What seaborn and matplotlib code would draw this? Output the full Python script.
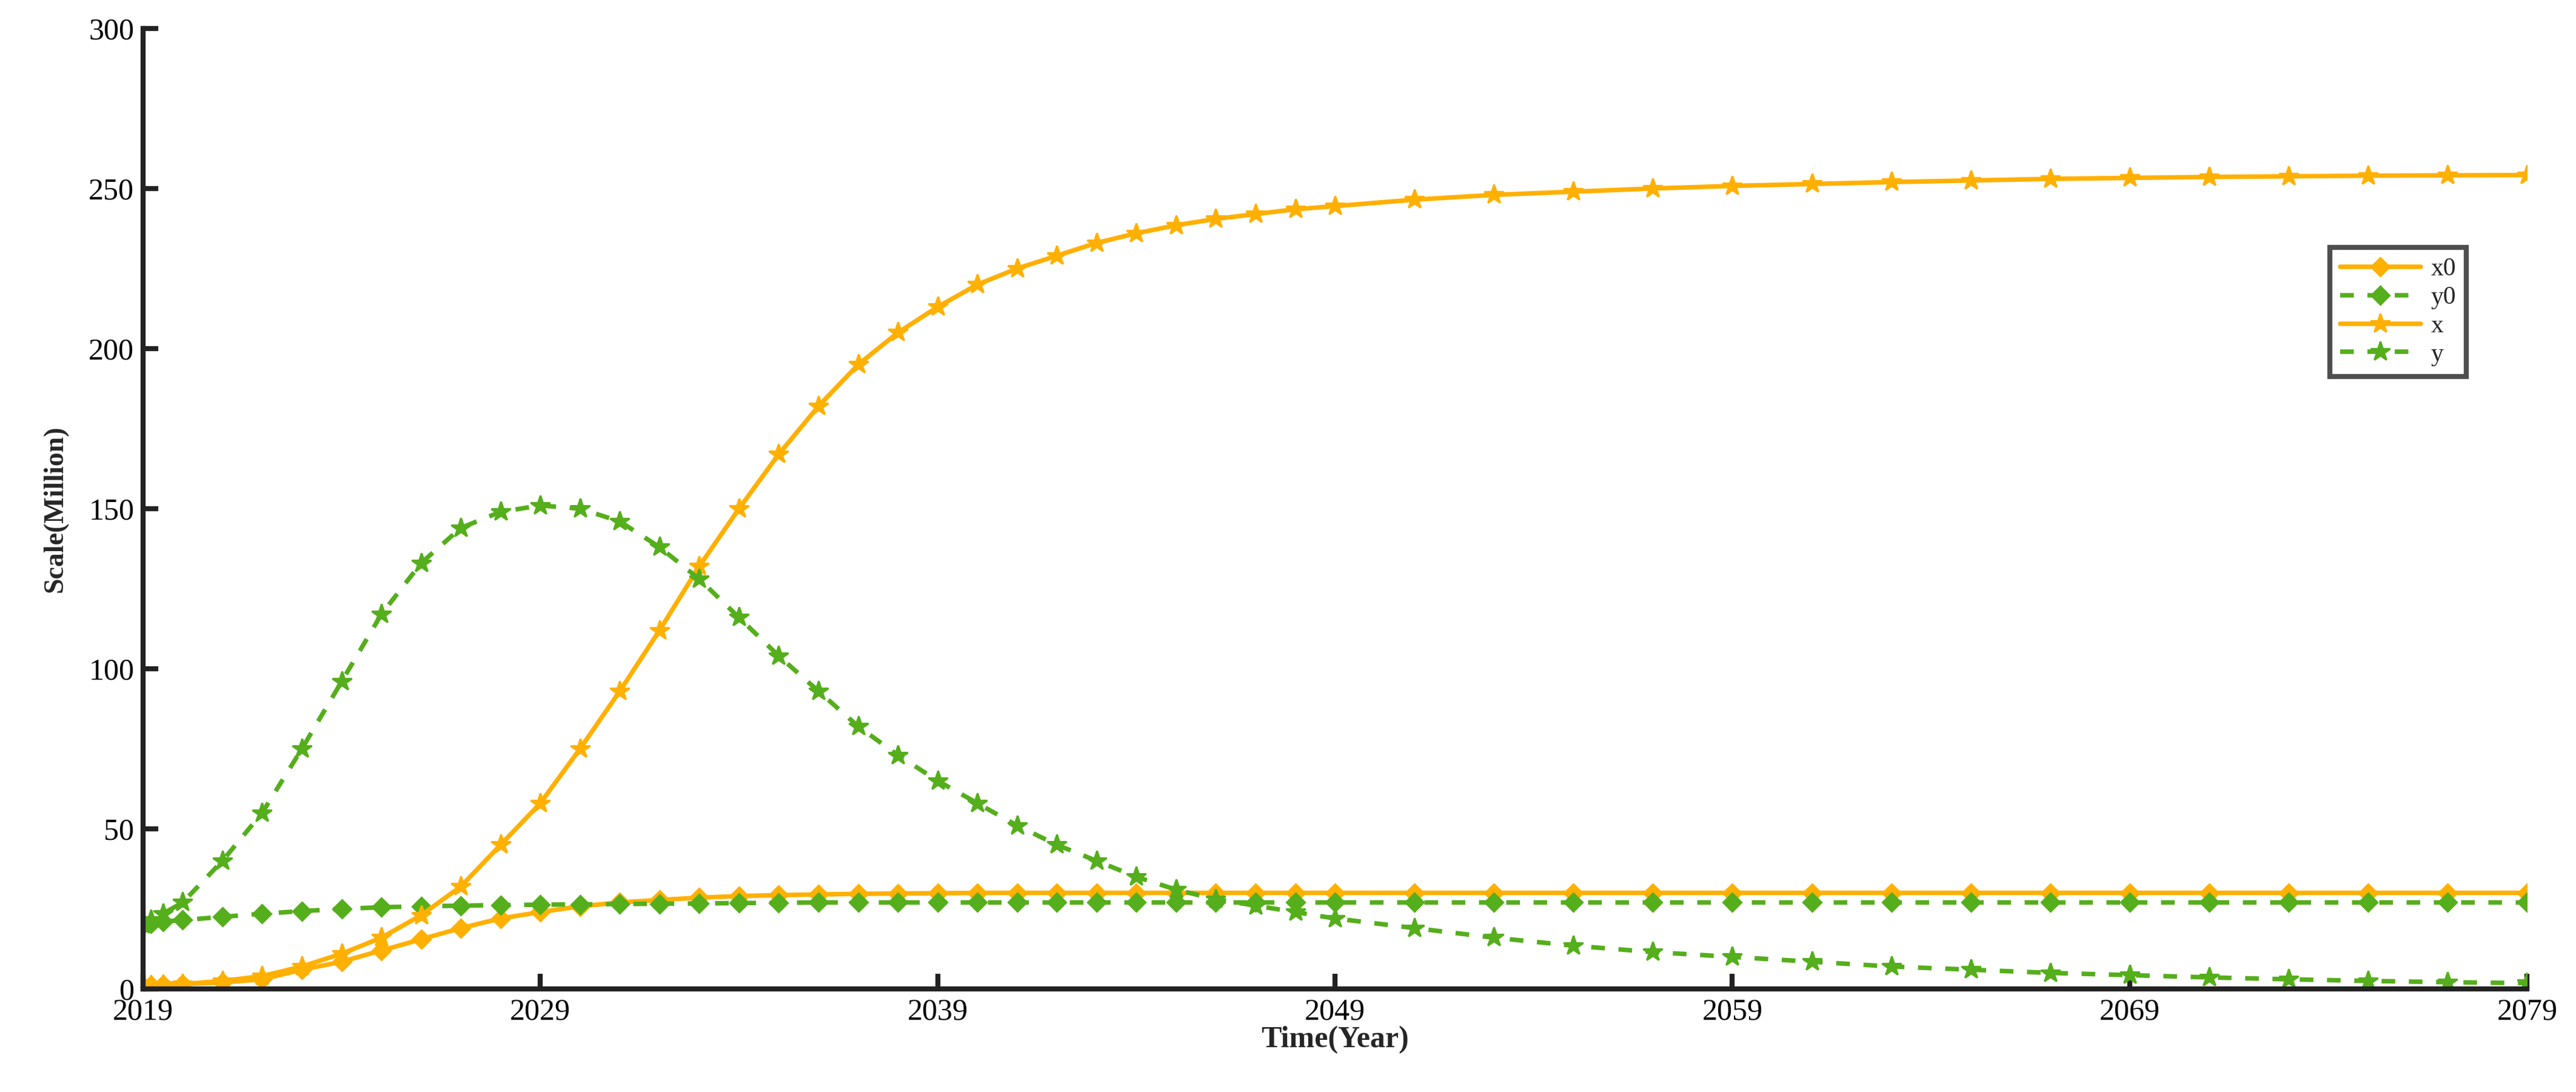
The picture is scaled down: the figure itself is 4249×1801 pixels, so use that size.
import numpy as np
import pandas as pd
import seaborn as sns
import matplotlib
matplotlib.use("Agg")
import matplotlib.pyplot as plt

years = [2019, 2019.2, 2019.5] + list(range(2020, 2050)) + list(range(2051, 2080, 2))

x0 = [1.0, 1.1, 1.3, 1.5, 2.0, 3.0, 6.0, 8.5, 12.0, 15.5, 19.0, 22.0, 24.0, 25.8, 27.0, 27.8, 28.5, 29.0, 29.3, 29.5, 29.7, 29.8, 29.9,
      30, 30, 30, 30, 30, 30, 30, 30, 30, 30] + [30.0] * 15
y0 = [20.0, 20.5, 21.0, 21.5, 22.5, 23.5, 24.3, 25.0, 25.5, 25.8, 26.0, 26.2, 26.3, 26.4, 26.5, 26.6, 26.7, 26.8, 26.9, 27,
      27, 27, 27, 27, 27, 27, 27, 27, 27, 27, 27, 27, 27] + [27.0] * 15
x = [1.0, 1.1, 1.3, 1.5, 2.5, 4.0, 7.0, 11.0, 16.0, 23.0, 32.0, 45.0, 58.0, 75.0, 93.0, 112.0, 132.0, 150.0, 167.0, 182.0, 195.0,
     205.0, 213.0, 220.0, 225.0, 229.0, 233.0, 236.0, 238.5, 240.5, 242.0, 243.5, 244.5,
     246.5, 248.0, 249.0, 250.0, 250.8, 251.4, 252.0, 252.5, 253.0, 253.3, 253.6, 253.8, 254.0, 254.1, 254.2]
y = [20.0, 21.5, 23.5, 27.0, 40.0, 55.0, 75.0, 96.0, 117.0, 133.0, 144.0, 149.0, 151.0, 150.0, 146.0, 138.0, 128.0, 116.0,
     104.0, 93.0, 82.0, 73.0, 65.0, 58.0, 51.0, 45.0, 40.0, 35.0, 31.0, 28.0, 26.0, 24.0, 22.0,
     19.0, 16.0, 13.5, 11.5, 10.0, 8.5, 7.0, 6.0, 5.0, 4.3, 3.6, 3.0, 2.5, 2.1, 1.8]

labels = ["x0", "y0", "x", "y"]
series = [x0, y0, x, y]

sns.set_theme(style="ticks")
plt.rcParams['font.family'] = ['Liberation Serif', 'DejaVu Serif']

fig = plt.figure(figsize=(4249 / 300, 1801 / 300), dpi=300)
ax = fig.add_axes([0.0555, 0.0944, 0.9255, 0.8796])

ORANGE = "#FFB000"
GREEN = "#55AE1B"
styles = {
    "x0": dict(color=ORANGE, linestyle="-", marker="D", markersize=5),
    "y0": dict(color=GREEN, linestyle=(0, (3, 3)), marker="D", markersize=5),
    "x": dict(color=ORANGE, linestyle="-", marker="*", markersize=8),
    "y": dict(color=GREEN, linestyle=(0, (3, 3)), marker="*", markersize=8),
}
for lab, vals in zip(labels, series):
    df = pd.DataFrame({"year": years, "v": vals})
    st = styles[lab]
    sns.lineplot(data=df, x="year", y="v", ax=ax, label=lab, color=st["color"],
                 linestyle=st["linestyle"], marker=st["marker"], markersize=st["markersize"],
                 markeredgecolor=st["color"], linewidth=1.8)

ax.set_xlim(2019, 2079)
ax.set_ylim(0, 300)
ax.set_xticks([2019, 2029, 2039, 2049, 2059, 2069, 2079])
ax.set_yticks([0, 50, 100, 150, 200, 250, 300])
ax.tick_params(direction="in", length=6, width=2, labelsize=12, colors="#222222", labelcolor="black")
for s in ["top", "right"]:
    ax.spines[s].set_visible(False)
for s in ["left", "bottom"]:
    ax.spines[s].set_linewidth(2)
    ax.spines[s].set_color("#222222")
ax.set_xlabel("Time(Year)", fontsize=12, fontweight="bold", labelpad=0)
ax.set_ylabel("Scale(Million)", fontsize=11, fontweight="bold", labelpad=8)

leg = ax.legend(loc="upper left", bbox_to_anchor=(0.912, 0.785), fontsize=10, frameon=True,
                fancybox=False, handlelength=3.2, borderpad=0.4, labelspacing=0.2, handletextpad=0.4)
leg.get_frame().set_edgecolor("#222222")
leg.get_frame().set_linewidth(2)

fig.savefig("out.png", dpi=300)
